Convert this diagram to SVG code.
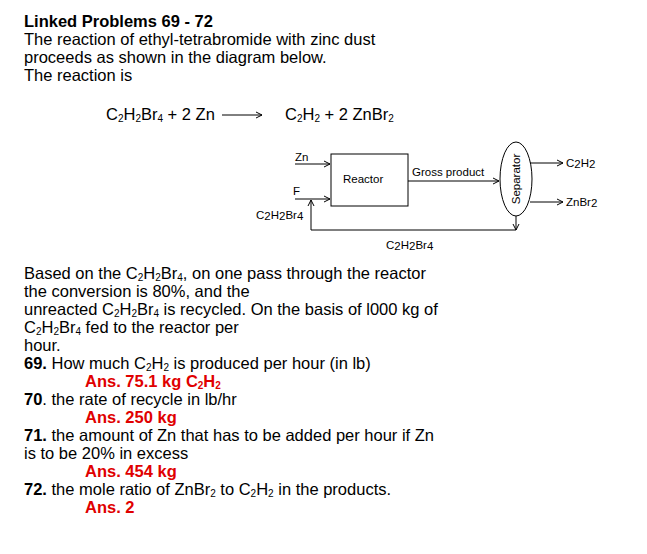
<svg xmlns="http://www.w3.org/2000/svg" width="647" height="554" viewBox="0 0 647 554">
<style>
.t{font-family:"Liberation Sans",Arial,sans-serif;font-size:16.5px;fill:#000}
.b{font-weight:bold}
.r{fill:#e00000;font-weight:bold}
.s{font-family:"Liberation Sans",Arial,sans-serif;font-size:11.5px;fill:#000}
.l{stroke:#000;stroke-width:1;fill:none}
</style>
<defs><marker id="a" markerWidth="8" markerHeight="8" refX="7" refY="4" orient="auto" markerUnits="userSpaceOnUse"><path d="M1,1 L7,4 L1,7" fill="none" stroke="#000"/></marker></defs>
<rect width="647" height="554" fill="#fff"/>
<g id="text">
<text class="t b" x="24" y="27">Linked Problems 69 - 72</text>
<text class="t" x="24" y="45">The reaction of ethyl-tetrabromide with zinc dust</text>
<text class="t" x="24" y="63">proceeds as shown in the diagram below.</text>
<text class="t" x="24" y="81">The reaction is</text>
<text class="t" x="106" y="120">C<tspan font-size="10" dy="2">2</tspan><tspan dy="-2">H</tspan><tspan font-size="10" dy="2">2</tspan><tspan dy="-2">Br</tspan><tspan font-size="10" dy="2">4</tspan><tspan dy="-2"> + 2 Zn</tspan></text>
<line class="l" x1="222" y1="115" x2="262" y2="115" marker-end="url(#a)"/>
<text class="t" x="285" y="120">C<tspan font-size="10" dy="2">2</tspan><tspan dy="-2">H</tspan><tspan font-size="10" dy="2">2</tspan><tspan dy="-2"> + 2 ZnBr</tspan><tspan font-size="10" dy="2">2</tspan></text>
<text class="t" x="24" y="279">Based on the C<tspan font-size="10" dy="2">2</tspan><tspan dy="-2">H</tspan><tspan font-size="10" dy="2">2</tspan><tspan dy="-2">Br</tspan><tspan font-size="10" dy="2">4</tspan><tspan dy="-2">, on one pass through the reactor</tspan></text>
<text class="t" x="24" y="297">the conversion is 80%, and the</text>
<text class="t" x="24" y="315">unreacted C<tspan font-size="10" dy="2">2</tspan><tspan dy="-2">H</tspan><tspan font-size="10" dy="2">2</tspan><tspan dy="-2">Br</tspan><tspan font-size="10" dy="2">4</tspan><tspan dy="-2"> is recycled. On the basis of l000 kg of</tspan></text>
<text class="t" x="24" y="333">C<tspan font-size="10" dy="2">2</tspan><tspan dy="-2">H</tspan><tspan font-size="10" dy="2">2</tspan><tspan dy="-2">Br</tspan><tspan font-size="10" dy="2">4</tspan><tspan dy="-2"> fed to the reactor per</tspan></text>
<text class="t" x="24" y="351">hour.</text>
<text class="t" x="24" y="369"><tspan class="b">69.</tspan> How much C<tspan font-size="10" dy="2">2</tspan><tspan dy="-2">H</tspan><tspan font-size="10" dy="2">2</tspan><tspan dy="-2"> is produced per hour (in lb)</tspan></text>
<text class="t r" x="85" y="387">Ans. 75.1 kg C<tspan font-size="10" dy="2">2</tspan><tspan dy="-2">H</tspan><tspan font-size="10" dy="2">2</tspan></text>
<text class="t" x="24" y="405"><tspan class="b">70</tspan>. the rate of recycle in lb/hr</text>
<text class="t r" x="85" y="423">Ans. 250 kg</text>
<text class="t" x="24" y="441"><tspan class="b">71.</tspan> the amount of Zn that has to be added per hour if Zn</text>
<text class="t" x="24" y="459">is to be 20% in excess</text>
<text class="t r" x="85" y="477">Ans. 454 kg</text>
<text class="t" x="24" y="495"><tspan class="b">72.</tspan>  the mole ratio of ZnBr<tspan font-size="10" dy="2">2</tspan><tspan dy="-2"> to C</tspan><tspan font-size="10" dy="2">2</tspan><tspan dy="-2">H</tspan><tspan font-size="10" dy="2">2</tspan><tspan dy="-2"> in the products.</tspan></text>
<text class="t r" x="85" y="513">Ans. 2</text>
</g>
<g id="reactor"><rect class="l" x="331" y="154" width="77" height="52"/><text class="s" x="343" y="183">Reactor</text></g>
<g id="separator"><ellipse class="l" cx="516" cy="179" rx="16" ry="37"/><text class="s" transform="translate(520,179) rotate(-90)" text-anchor="middle">Separator</text></g>
<g id="labels">
<text class="s" x="295" y="161">Zn</text>
<text class="s" x="293" y="195">F</text>
<text class="s" x="256" y="219">C<tspan dy="1">2</tspan><tspan dy="-1">H</tspan><tspan dy="1">2</tspan><tspan dy="-1">Br</tspan><tspan dy="1">4</tspan></text>
<text class="s" x="386" y="249">C<tspan dy="1">2</tspan><tspan dy="-1">H</tspan><tspan dy="1">2</tspan><tspan dy="-1">Br</tspan><tspan dy="1">4</tspan></text>
<text class="s" x="412" y="176">Gross product</text>
<text class="s" x="566" y="167">C<tspan dy="1">2</tspan><tspan dy="-1">H</tspan><tspan dy="1">2</tspan></text>
<text class="s" x="566" y="206">ZnBr<tspan dy="1">2</tspan></text>
</g>
<g id="connectors">
<line class="l" x1="295" y1="164" x2="330" y2="164" marker-end="url(#a)"/>
<line class="l" x1="295" y1="199" x2="330" y2="199" marker-end="url(#a)"/>
<line class="l" x1="408" y1="181" x2="499" y2="181" marker-end="url(#a)"/>
<line class="l" x1="530" y1="163" x2="563" y2="163" marker-end="url(#a)"/>
<line class="l" x1="530" y1="202" x2="563" y2="202" marker-end="url(#a)"/>
<line class="l" x1="516" y1="216" x2="516" y2="230" marker-end="url(#a)"/>
<polyline class="l" points="516,230 311,230 311,200" marker-end="url(#a)"/>
</g>
</svg>
